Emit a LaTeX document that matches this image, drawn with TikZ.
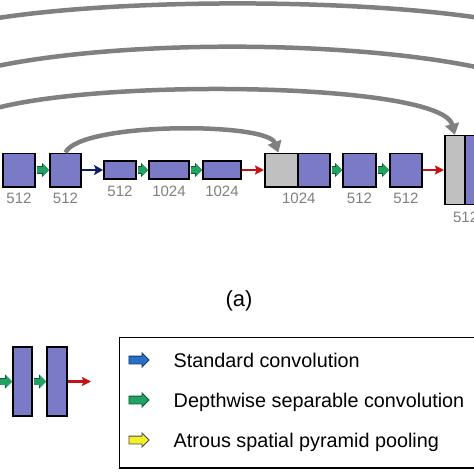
\documentclass[tikz,border=0pt]{standalone}
\usepackage{fontspec}
\setmainfont{Liberation Sans}
\usetikzlibrary{arrows.meta,positioning,shapes.arrows}

\definecolor{bloque}{RGB}{122,122,198}
\definecolor{gris}{RGB}{192,192,192}
\definecolor{salto}{RGB}{128,128,128}
\definecolor{verde}{RGB}{34,162,98}
\definecolor{verdeosc}{RGB}{12,90,52}
\definecolor{rojo}{RGB}{196,18,20}
\definecolor{marino}{RGB}{14,30,96}
\definecolor{azul}{RGB}{40,112,196}
\definecolor{azulosc}{RGB}{22,52,112}
\definecolor{amarillo}{RGB}{244,240,40}

\begin{document}
\begin{tikzpicture}[
        x=1pt, y=-1pt,
        capa/.style={draw, line width=1.6pt, fill=bloque, inner sep=0pt, minimum width=32.4pt, minimum height=33.4pt},
        plana/.style={capa, minimum height=18.4pt},
        alta/.style={capa, minimum width=19.4pt, minimum height=68.8pt},
        concat/.style={fill=gris},
        etiqueta/.style={text=salto, font=\fontsize{15}{17}\selectfont, inner sep=1pt},
        salto-arco/.style={draw=salto, line width=4.5pt, -{Triangle[length=11pt, width=14pt]}},
        dsconv/.style={draw=verde, line width=6pt, shorten <=0.8pt, -{Triangle[length=6pt, width=12pt]},
            preaction={draw=verdeosc, line width=7.6pt, -{Triangle[length=7pt, width=14pt]}}},
        stdconv/.style={draw=marino, line width=2.2pt, -{Stealth[length=9pt, width=10pt, inset=2pt]}},
        upconv/.style={draw=rojo, line width=2.2pt, -{Stealth[length=9pt, width=9pt, inset=1.5pt]}},
        leyenda/.style={draw, line width=1.6pt, minimum width=400pt, minimum height=130.4pt, inner sep=0pt},
        muestra/.style={single arrow, line width=0.8pt, minimum height=20pt, minimum width=12pt, single arrow head extend=3pt, inner sep=3.5pt},
        texto-leyenda/.style={font=\fontsize{19.8}{24}\selectfont, anchor=west, text height=14.4pt, text depth=0pt, inner sep=0pt}
    ]
        \useasboundingbox[fill=white] (0,0) rectangle (474,474);

        % (a) encoder / middle / decoder row
        \node[capa, label={[etiqueta, label distance=4.5pt]below:512}] (enc-a) at (19,170) {};
        \node[capa, minimum width=31.4pt, right=13pt of enc-a, label={[etiqueta, label distance=4.5pt]below:512}] (enc-b) {};
        \node[plana, right=21pt of enc-b, label={[etiqueta, label distance=4.5pt]below:512}] (mid-c) {};
        \node[plana, minimum width=40.4pt, right=11pt of mid-c, label={[etiqueta, label distance=4.5pt]below:1024}] (mid-d) {};
        \node[plana, minimum width=38.4pt, right=12pt of mid-d, label={[etiqueta, label distance=4.5pt]below:1024}] (mid-e) {};
        \node[capa, concat, minimum width=33.2pt, right=22pt of mid-e] (dec-f-cat) {};
        \node[capa, minimum width=32.2pt, right=-1.6pt of dec-f-cat] (dec-f) {};
        \node[capa, minimum width=33.4pt, right=11pt of dec-f, label={[etiqueta, label distance=4.5pt]below:512}] (dec-g) {};
        \node[capa, right=12pt of dec-g, label={[etiqueta, label distance=4.5pt]below:512}] (dec-h) {};
        \node[alta, concat, minimum width=20pt, right=21pt of dec-h] (dec-i-cat) {};
        \node[alta, minimum width=21pt, right=-1.6pt of dec-i-cat] (dec-i) {};

        \node[etiqueta, below=4.5pt of dec-f-cat.south east] (lbl-f) {1024};
        \node[etiqueta, below=5.5pt of dec-i-cat.south east] (lbl-i) {512};

        \draw[dsconv] (enc-a) -- (enc-b);
        \draw[stdconv] (enc-b) -- (mid-c);
        \draw[dsconv] (mid-c) -- (mid-d);
        \draw[dsconv] (mid-d) -- (mid-e);
        \draw[upconv] (mid-e) -- (dec-f-cat);
        \draw[dsconv] (dec-f) -- (dec-g);
        \draw[dsconv] (dec-g) -- (dec-h);
        \draw[upconv] (dec-h) -- (dec-i-cat);

        % skip connections
        \coordinate (skip2-start) at (-40,125);
        \coordinate (skip3-start) at (-60,82);
        \coordinate (skip3-end) at (540,85);
        \coordinate (skip4-start) at (-60,30);
        \coordinate (skip4-end) at (540,30);
        \draw[salto-arco] (enc-b.north) .. controls (80,122) and (267,122) .. ([xshift=-3pt]dec-f-cat.north);
        \draw[salto-arco] (skip2-start) .. controls (0,77) and (440,77) .. (dec-i-cat.north);
        \draw[salto-arco] (skip3-start) .. controls (60,35) and (400,35) .. (skip3-end);
        \draw[salto-arco] (skip4-start) .. controls (60,-5) and (400,-5) .. (skip4-end);

        \node[font=\fontsize{22}{26}\selectfont] (caption-a) at (239,301) {(a)};

        % output head and legend
        \coordinate (out-in) at (-8,381.5);
        \coordinate (out-end) at (91,381.5);
        \node[alta] (out-j) at (22.5,381.5) {};
        \node[alta, minimum width=20.4pt, right=13pt of out-j] (out-k) {};
        \draw[dsconv] (out-in) -- (out-j);
        \draw[dsconv] (out-j) -- (out-k);
        \draw[upconv] (out-k) -- (out-end);

        \node[leyenda, anchor=north west] (legend) at (118.8,336.8) {};
        \node[muestra, fill=azul, draw=azulosc] (leg-std) at (137,360) {};
        \node[muestra, fill=verde, draw=verdeosc] (leg-dsc) at (137,400) {};
        \node[muestra, fill=amarillo, draw=black!70] (leg-aspp) at (137,440) {};
        \node[texto-leyenda, right=24pt of leg-std] (txt-std) {Standard convolution};
        \node[texto-leyenda, right=24pt of leg-dsc] (txt-dsc) {Depthwise separable convolution};
        \node[texto-leyenda, right=24pt of leg-aspp] (txt-aspp) {Atrous spatial pyramid pooling};
    \end{tikzpicture}
\end{document}
